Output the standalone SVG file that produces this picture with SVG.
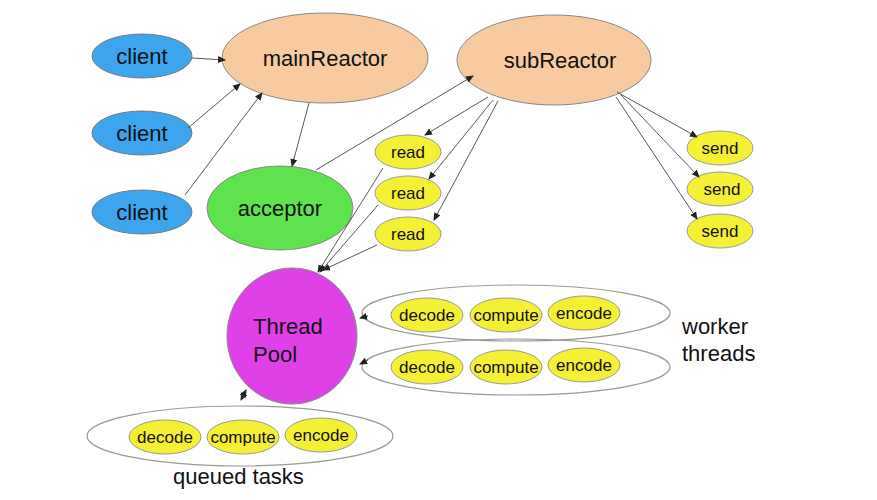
<svg xmlns="http://www.w3.org/2000/svg" width="877" height="500" viewBox="0 0 877 500">
<defs>
<style>
text{font-family:"Liberation Sans",Arial,sans-serif;fill:#111;text-anchor:middle;dominant-baseline:central}
.big{font-size:22px}.sm{font-size:17px}
.l{text-anchor:start}
.cl{fill:#3da5ee;stroke:#777;stroke-width:1}
.re{fill:#f7caa0;stroke:#888;stroke-width:1}
.y{fill:#f5f033;stroke:#999;stroke-width:1}
.out{fill:none;stroke:#999;stroke-width:1.2}
.c line{stroke:#444;stroke-width:0.9;marker-end:url(#a)}
</style>
<marker id="a" markerWidth="8" markerHeight="8" refX="7" refY="4" orient="auto" markerUnits="userSpaceOnUse"><path d="M0,0.5 L8,4 L0,7.5z" fill="#222"/></marker>
<marker id="s" markerWidth="8" markerHeight="8" refX="1" refY="4" orient="auto" markerUnits="userSpaceOnUse"><path d="M8,0.5 L0,4 L8,7.5z" fill="#222"/></marker>
</defs>
<rect width="877" height="500" fill="#fff"/>
<g id="client1"><ellipse class="cl" cx="142" cy="56" rx="50" ry="22"/><text class="big" x="142" y="56">client</text></g>
<g id="client2"><ellipse class="cl" cx="142" cy="133" rx="50" ry="22"/><text class="big" x="142" y="133">client</text></g>
<g id="client3"><ellipse class="cl" cx="142" cy="212" rx="50" ry="22"/><text class="big" x="142" y="212">client</text></g>
<g id="mainReactor"><ellipse class="re" cx="325" cy="58" rx="103" ry="45"/><text class="big" x="325" y="58">mainReactor</text></g>
<g id="subReactor"><ellipse class="re" cx="554" cy="60" rx="97" ry="45"/><text class="big" x="560" y="60">subReactor</text></g>
<g id="acceptor"><ellipse cx="280" cy="208" rx="73" ry="42" fill="#5ee34f" stroke="#888"/><text class="big" x="280" y="208">acceptor</text></g>
<g id="read1"><ellipse class="y" cx="408" cy="152" rx="33" ry="17"/><text class="sm" x="408" y="152">read</text></g>
<g id="read2"><ellipse class="y" cx="408" cy="193" rx="33" ry="17"/><text class="sm" x="408" y="193">read</text></g>
<g id="read3"><ellipse class="y" cx="408" cy="234" rx="33" ry="17"/><text class="sm" x="408" y="234">read</text></g>
<g id="send1"><ellipse class="y" cx="720" cy="148" rx="33" ry="17"/><text class="sm" x="720" y="148">send</text></g>
<g id="send2"><ellipse class="y" cx="720" cy="189" rx="33" ry="17"/><text class="sm" x="722" y="189">send</text></g>
<g id="send3"><ellipse class="y" cx="720" cy="231" rx="33" ry="17"/><text class="sm" x="720" y="231">send</text></g>
<g id="threadPool"><ellipse cx="292" cy="336" rx="65" ry="68" fill="#e040e8" stroke="#888"/><text class="big l" x="253" y="326">Thread</text><text class="big l" x="253" y="354">Pool</text></g>
<g id="worker1"><ellipse class="out" cx="516" cy="313" rx="154" ry="28"/>
<ellipse class="y" cx="427" cy="315" rx="36" ry="17"/><text class="sm" x="427" y="315">decode</text>
<ellipse class="y" cx="506" cy="315" rx="36" ry="17"/><text class="sm" x="506" y="315">compute</text>
<ellipse class="y" cx="584" cy="313" rx="36" ry="17"/><text class="sm" x="584" y="313">encode</text></g>
<g id="worker2"><ellipse class="out" cx="516" cy="367" rx="154" ry="28"/>
<ellipse class="y" cx="427" cy="367" rx="36" ry="17"/><text class="sm" x="427" y="367">decode</text>
<ellipse class="y" cx="506" cy="367" rx="36" ry="17"/><text class="sm" x="506" y="367">compute</text>
<ellipse class="y" cx="584" cy="365" rx="36" ry="17"/><text class="sm" x="584" y="365">encode</text></g>
<g id="workerLabel"><text class="big l" x="682" y="326">worker</text><text class="big l" x="682" y="353">threads</text></g>
<g id="queued"><ellipse class="out" cx="240" cy="436" rx="153" ry="30"/>
<ellipse class="y" cx="165" cy="437" rx="36" ry="17"/><text class="sm" x="165" y="437">decode</text>
<ellipse class="y" cx="243" cy="437" rx="36" ry="17"/><text class="sm" x="243" y="437">compute</text>
<ellipse class="y" cx="321" cy="435" rx="36" ry="17"/><text class="sm" x="321" y="435">encode</text>
<text class="big l" x="173" y="476">queued tasks</text></g>
<g id="connectors" class="c">
<line x1="192" y1="58" x2="225" y2="60"/>
<line x1="188" y1="128" x2="240" y2="84"/>
<line x1="185" y1="195" x2="262" y2="93"/>
<line x1="309" y1="103" x2="292" y2="166"/>
<line x1="316" y1="170" x2="473" y2="76"/>
<line x1="488" y1="97" x2="425" y2="135"/>
<line x1="493" y1="100" x2="429" y2="179"/>
<line x1="498" y1="101" x2="434" y2="220"/>
<line x1="617" y1="92" x2="697" y2="137"/>
<line x1="621" y1="95" x2="699" y2="177"/>
<line x1="616" y1="97" x2="697" y2="219"/>
<line x1="383" y1="168" x2="318" y2="272"/>
<line x1="378" y1="205" x2="320" y2="272"/>
<line x1="377" y1="245" x2="323" y2="270"/>
<line x1="368" y1="316" x2="360" y2="318"/>
<line x1="368" y1="360" x2="360" y2="364"/>
<line x1="241" y1="400" x2="246" y2="390" marker-start="url(#s)"/>
</g>
</svg>
